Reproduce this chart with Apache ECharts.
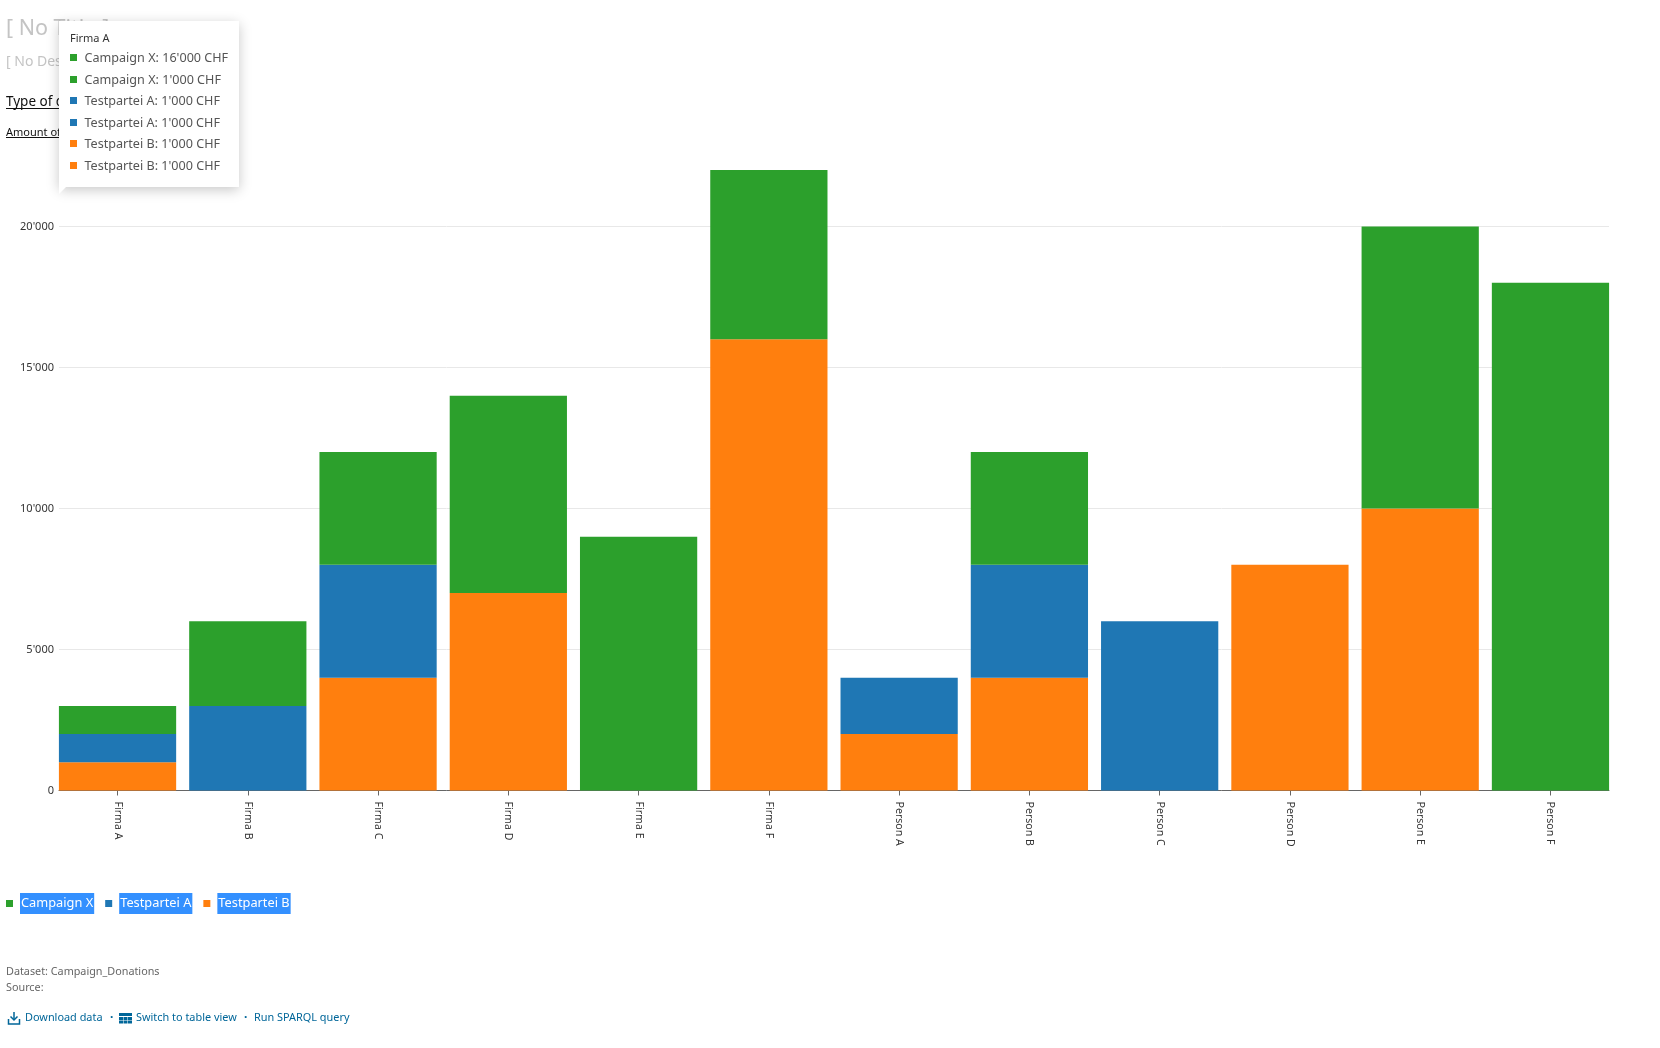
<!DOCTYPE html>
<html>
<head>
<meta charset="utf-8">
<title>Campaign Donations</title>
<script src="https://cdn.jsdelivr.net/npm/echarts@6/dist/echarts.min.js"></script>
<style>
  html, body { margin: 0; padding: 0; background: #fff; overflow: hidden; }
  #main { width: 1660px; height: 1048px; }
</style>
</head>
<body>
<div id="main"></div>
<script>
var categories = ['Firma A', 'Firma B', 'Firma C', 'Firma D', 'Firma E', 'Firma F',
                  'Person A', 'Person B', 'Person C', 'Person D', 'Person E', 'Person F'];
var campaignX   = [1000, 3000, 4000, 7000, 9000, 6000, 0, 4000, 0, 0, 10000, 18000];
var testparteiA = [1000, 3000, 4000, 0, 0, 0, 2000, 4000, 6000, 0, 0, 0];
var testparteiB = [1000, 0, 4000, 7000, 0, 16000, 2000, 4000, 0, 8000, 10000, 0];
var legendNames = ['Campaign X', 'Testpartei A', 'Testpartei B'];

// tooltip rows as they are shown for Firma A
var tipTitle = 'Firma A';
var tipNames = ['Campaign X', 'Campaign X', 'Testpartei A', 'Testpartei A', 'Testpartei B', 'Testpartei B'];
var tipValues = ["16'000", "1'000", "1'000", "1'000", "1'000", "1'000"];

var GREEN = '#2ca02c', BLUE = '#1f77b4', ORANGE = '#ff7f0e';
var FONT = '"Noto Sans", sans-serif';
var LINK = '#006699';
var tipColors = { 'Campaign X': GREEN, 'Testpartei A': BLUE, 'Testpartei B': ORANGE };

function thousands(v) {
    return String(v).replace(/\B(?=(\d{3})+$)/g, "'");
}

function pageText(x, y, text, size, color, extra) {
    var style = { x: x, y: y, text: text, fontFamily: FONT, fontSize: size, fill: color, textVerticalAlign: 'middle' };
    for (var k in extra) style[k] = extra[k];
    return { type: 'text', silent: true, style: style };
}

function underline(x, y, w, color) {
    return { type: 'rect', silent: true, shape: { x: x, y: y, width: w, height: 1 }, style: { fill: color } };
}

function iconLine(points) {
    return { type: 'polyline', shape: { points: points }, style: { fill: 'none', stroke: LINK, lineWidth: 1.5 } };
}

// little grid icon of the table link
function tableIcon(x, y) {
    var parts = [{ type: 'rect', shape: { x: x, y: y, width: 13, height: 3 }, style: { fill: LINK } }];
    for (var r = 0; r < 2; r++) {
        for (var c = 0; c < 3; c++) {
            parts.push({ type: 'rect', shape: { x: x + c * 4.5, y: y + 4 + r * 3.5, width: 4, height: 3 }, style: { fill: LINK } });
        }
    }
    return parts;
}

var myChart = echarts.init(document.getElementById('main'));

var option = {
    animation: false,
    textStyle: { fontFamily: FONT },
    color: [ORANGE, BLUE, GREEN],
    legend: {
        left: 6,
        top: 893,
        padding: 0,
        data: legendNames,
        icon: 'rect',
        itemWidth: 7,
        itemHeight: 7,
        itemGap: 11,
        selectedMode: false,
        formatter: function (name) {
            return '{n|' + name + '}';
        },
        textStyle: {
            padding: [0, 0, 0, 2],
            rich: {
                n: {
                    fontFamily: FONT,
                    fontSize: 12.8,
                    color: '#fff',
                    backgroundColor: '#3390ff',
                    padding: [4, 1, 4, 1]
                }
            }
        }
    },
    tooltip: {
        trigger: 'item',
        triggerOn: 'none',
        alwaysShowContent: true,
        transitionDuration: 0,
        padding: 0,
        borderWidth: 0,
        backgroundColor: '#fff',
        position: [59, 21],
        extraCssText: 'box-shadow:0 3px 12px rgba(0,0,0,.22);border-radius:0;width:180px;height:166px;',
        formatter: function () {
            var html = '<div style="position:relative;font-family:' + FONT.replace(/"/g, "'") + ';font-size:12.6px;color:#555;width:180px;height:166px;">';
            html += '<div style="position:absolute;left:11px;top:9px;font-size:11px;color:#333;line-height:16px;">' + tipTitle + '</div>';
            tipNames.forEach(function (name, i) {
                var top = 29 + i * 21.5;
                html += '<div style="position:absolute;left:11px;top:' + (top + 4) + 'px;width:7px;height:7px;background:' + tipColors[name] + ';"></div>';
                html += '<div style="position:absolute;left:25.5px;top:' + top + 'px;line-height:16px;white-space:nowrap;">' + name + ': ' + tipValues[i] + ' CHF</div>';
            });
            html += '<div style="position:absolute;left:0;top:166px;width:0;height:0;border-top:7px solid #fff;border-right:7px solid transparent;border-left:0;"></div>';
            return html + '</div>';
        }
    },
    grid: [
        // bars: outer half gaps fall outside the plot frame
        { left: 52.4, width: 1563.2, top: 170, height: 620.5, containLabel: false },
        // frame: value labels, grid lines and base line
        { left: 59, width: 1550, top: 170, height: 620.5, containLabel: false }
    ],
    xAxis: [
        {
            type: 'category',
            gridIndex: 0,
            data: categories,
            axisLine: { show: false },
            axisTick: { show: true, alignWithLabel: true, length: 5, lineStyle: { color: '#666' } },
            axisLabel: { rotate: -90, margin: 11, fontSize: 10.6, color: '#333', interval: 0 }
        },
        {
            type: 'category',
            gridIndex: 1,
            data: [],
            axisLine: { show: true, lineStyle: { color: '#666', width: 1 } },
            axisTick: { show: false },
            axisLabel: { show: false }
        }
    ],
    yAxis: [
        {
            type: 'value',
            gridIndex: 0,
            min: 0,
            max: 22000,
            interval: 5000,
            show: false,
            splitLine: { show: false }
        },
        {
            type: 'value',
            gridIndex: 1,
            min: 0,
            max: 22000,
            interval: 5000,
            axisLine: { show: false },
            axisTick: { show: false },
            axisLabel: { margin: 5, fontSize: 11, color: '#333', showMaxLabel: false, formatter: thousands },
            splitLine: { show: true, showMaxLine: false, lineStyle: { color: '#e8e8e8', width: 1 } }
        }
    ],
    series: [
        { name: 'Testpartei B', type: 'bar', stack: 'total', barCategoryGap: '10%', xAxisIndex: 0, yAxisIndex: 0, data: testparteiB },
        { name: 'Testpartei A', type: 'bar', stack: 'total', barCategoryGap: '10%', xAxisIndex: 0, yAxisIndex: 0, data: testparteiA },
        { name: 'Campaign X', type: 'bar', stack: 'total', barCategoryGap: '10%', xAxisIndex: 0, yAxisIndex: 0, data: campaignX }
    ],
    graphic: [
        pageText(6, 28.5, '[ No Title ]', 21.5, '#c4c4c4'),
        pageText(6, 62, '[ No Description ]', 14, '#c4c4c4'),
        pageText(6, 102, 'Type of donor', 13.5, '#111'),
        underline(6, 108, 89, '#111'),
        pageText(6, 132.5, 'Amount of donations', 11, '#111'),
        underline(6, 137, 110, '#111'),
        pageText(6, 972, 'Dataset: Campaign_Donations', 10.8, '#666'),
        pageText(6, 988, 'Source:', 10.8, '#666'),
        {
            type: 'group',
            silent: true,
            children: [
                iconLine([[14, 1012], [14, 1020]]),
                iconLine([[10.5, 1016.5], [14, 1020], [17.5, 1016.5]]),
                iconLine([[8.5, 1019], [8.5, 1024], [19.5, 1024], [19.5, 1019]])
            ]
        },
        pageText(25, 1018, 'Download data', 10.9, LINK),
        pageText(110, 1018, '·', 12, LINK, { fontWeight: 'bold' }),
        { type: 'group', silent: true, children: tableIcon(119, 1013) },
        pageText(136, 1018, 'Switch to table view', 10.9, LINK),
        pageText(244, 1018, '·', 12, LINK, { fontWeight: 'bold' }),
        pageText(254, 1018, 'Run SPARQL query', 10.9, LINK)
    ]
};

myChart.setOption(option);
myChart.dispatchAction({ type: 'showTip', seriesIndex: 2, dataIndex: 0 });
</script>
</body>
</html>
